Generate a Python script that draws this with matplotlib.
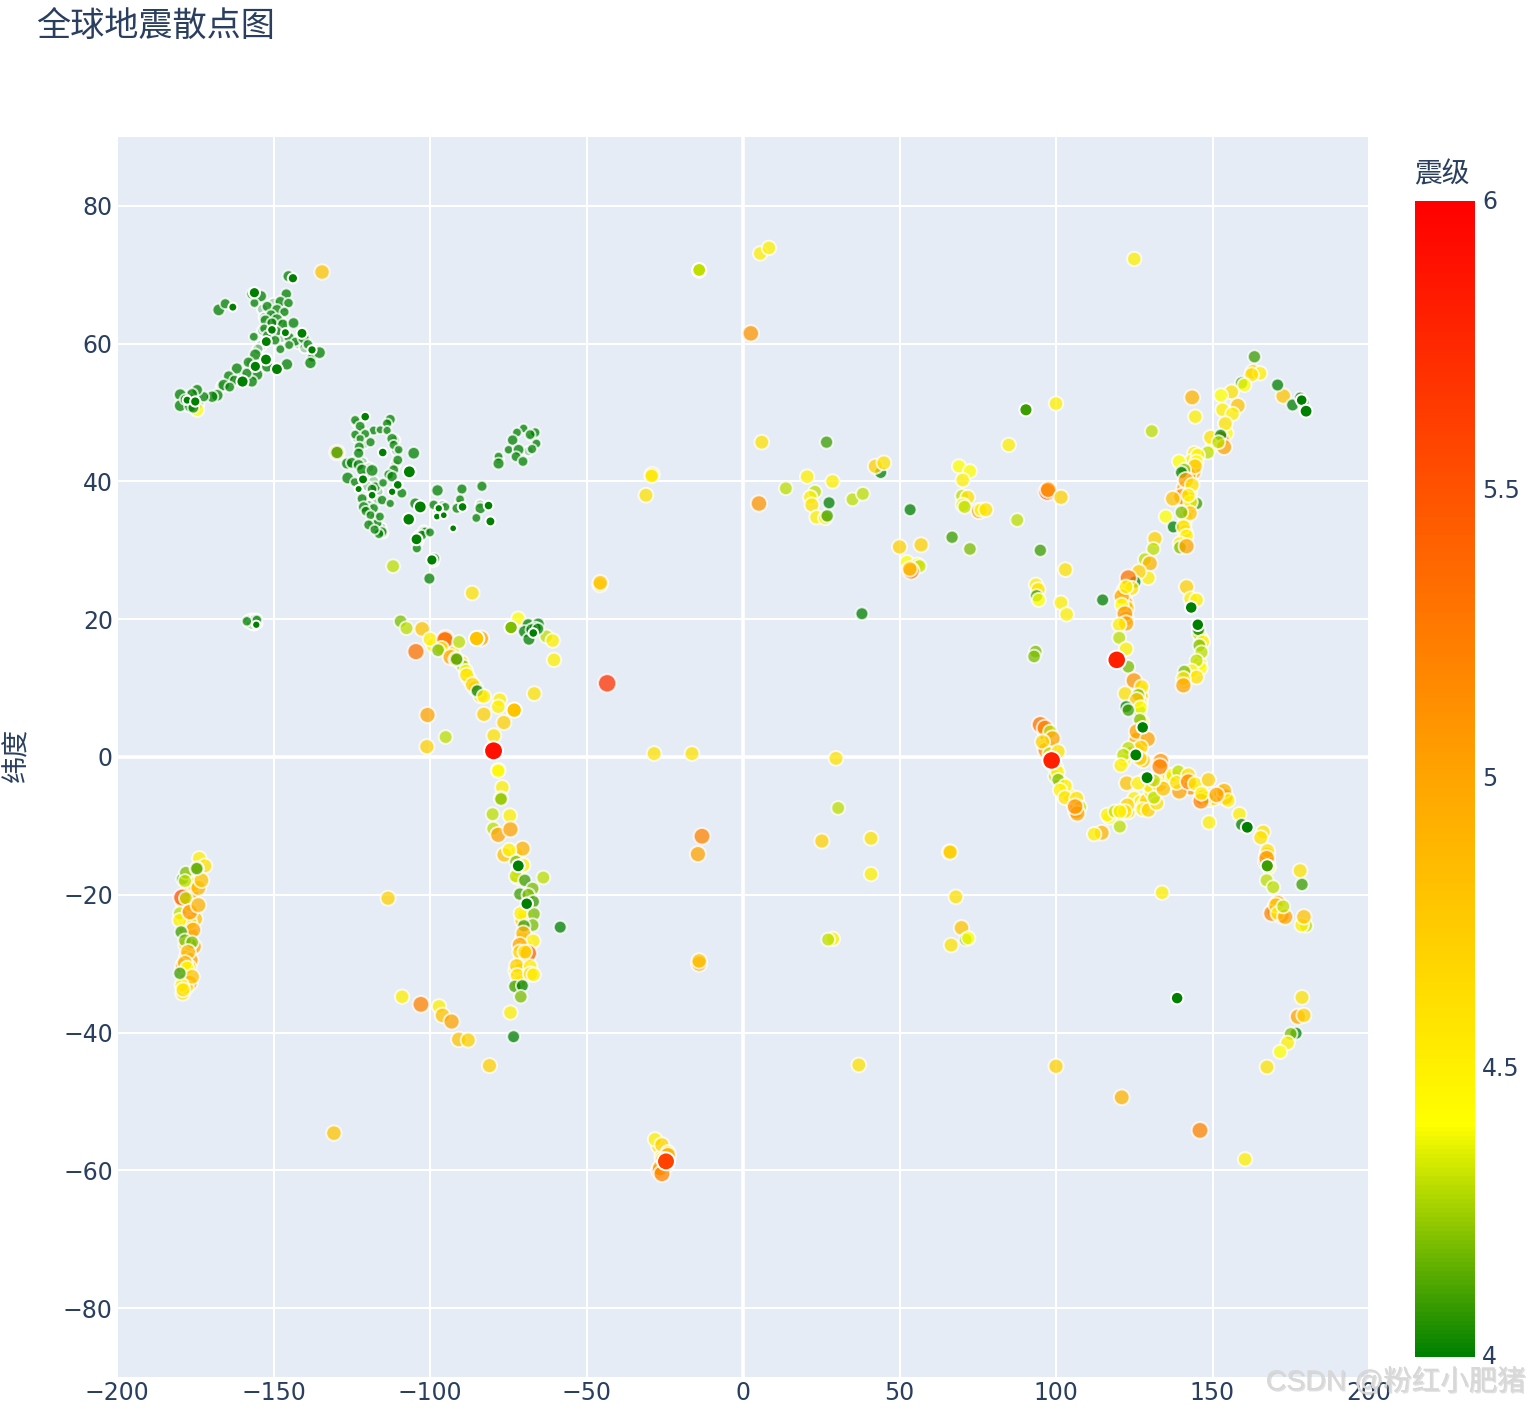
import numpy as np
import matplotlib
matplotlib.use('Agg')
import matplotlib.pyplot as plt
import matplotlib.patheffects as pe
from matplotlib.colors import LinearSegmentedColormap, Normalize
from matplotlib.cm import ScalarMappable
from matplotlib.transforms import ScaledTranslation

plt.rcParams['font.family'] = ['DejaVu Sans', 'Noto Sans CJK SC']

# (lon, lat, mag), grouped by region
alaska = [
    (-145.2,69.8,3.7),(-167.5,64.9,3.9),(-165.4,65.8,3.4),(-156.9,67.2,3.4),(-154,66.9,3.7),(-156.1,65.9,3.0),
    (-145.9,67.2,3.5),(-152,65.4,3.4),(-147.8,66.1,3.5),(-145.2,65.9,3.2),(-148.9,64.9,3.6),(-150.8,64.2,3.3),
    (-146.5,64.6,3.1),(-152.6,63.4,3.5),(-148.9,63.5,3.8),(-150.5,63,3.4),(-147,62.8,3.5),(-143.6,63,3.6),
    (-153,62.2,3.0),(-149,61.8,3.3),(-152,61.2,3.1),(-145,60.9,3.4),(-143,60.3,3.0),(-140.4,60.8,3.7),
    (-156.3,61,3.0),(-149.5,60.5,3.2),(-147.8,59.2,3.0),(-145,59.8,3.0),(-139,59.9,3.2),(-137.7,58,3.1),
    (-135.3,58.7,3.9),(-138.2,57.2,3.8),(-145.7,57,3.8),(-152,56.7,3.8),(-155.8,58.4,3.8),(-158,57.3,3.5),
    (-155.3,55.5,3.9),(-156.9,54.5,3.7),(-161.7,56.4,3.7),(-158.5,55.7,3.4),(-164.3,55.3,3.5),(-162.5,54.7,3.3),
    (-165.9,54,3.8),(-164,53.7,3.3),(-168,52.5,3.9),(-169.6,52.3,3.8),(-172.3,52.3,3.4),(-174.4,53.3,3.6),
    (-176,52.7,3.6),(-174.4,50.4,4.4),(-179.8,52.6,3.9),(-179.8,51,3.9),(-176.6,50.9,3.8),(-178.2,51.9,3.4),
    (-175.6,50.7,3.6),
]
us_west = [
    (-129.7,44.2,4.9),(-129.7,44.2,4.1),(-123.9,48.9,3.1),(-122.3,48,3.3),(-112.7,49,3.4),(-113.7,48.4,3.1),
    (-118,47.4,3.0),(-115.9,47.5,2.7),(-113.7,47.4,2.8),(-120.7,46.9,3.0),(-123.9,46.8,3.0),(-122.3,46.2,2.8),
    (-119,45.7,3.1),(-112.1,46.2,3.5),(-111.6,45.3,3.1),(-110,44.6,2.9),(-122.6,45,3.3),(-122.8,44.1,3.4),
    (-105.2,44.1,3.9),(-110.3,43.1,3.3),(-126.5,42.6,3.7),(-125,42.7,3.6),(-122.8,42.4,3.6),(-121.7,41.7,3.7),
    (-118.5,41.6,3.9),(-111.6,41.7,3.3),(-113.2,41,3.2),(-112.1,40.7,3.5),(-126.3,40.5,3.9),(-117.5,39.2,3.4),
    (-124,39.9,3.0),(-115,39.8,2.9),(-118.5,38.9,3.2),(-115.3,37.3,3.2),(-112.7,36.8,2.8),(-121.7,37.5,3.3),
    (-118,36.1,3.2),(-121.2,36.3,3.5),(-120.5,35.7,3.2),(-109,38.3,3.3),(-119,35.1,3.0),(-116.9,33.9,3.2),
    (-119.6,33.7,3.3),(-115.3,32.7,3.3),(-116.3,32.4,3.2),(-117.7,33,3.1),(-116,34.9,3.0),
]
us_east = [
    (-111.8,27.7,4.3),(-100.2,25.9,3.7),(-104.7,36.8,3.7),(-97.6,38.7,3.8),(-89.8,38.9,3.4),(-90.4,37.4,3.0),
    (-83.4,39.3,3.4),(-98.8,36.6,3.2),(-95.1,36.3,3.0),(-91.4,36.1,3.3),(-83.9,36.1,3.6),(-85.2,34.7,3.0),
    (-101.5,32.7,3.1),(-102.6,32.2,3.3),(-104.2,30.3,3.1),(-98.6,28.8,3.5),(-100,32.6,3.0),
    (-70.1,47.7,2.9),(-66.4,47.1,3.2),(-68,46.8,3.3),(-72.2,47.1,3.0),(-73.6,46,3.5),(-66,45.5,3.0),
    (-74.9,44.6,2.9),(-71.7,44.6,3.6),(-67.4,44.7,3.1),(-72.5,43.6,3.3),(-70.3,42.9,3.3),(-78.1,43.6,3.0),
    (-78.1,42.6,3.7),
]
hawaii = [(-158.5,19.7,3.2),(-155.3,19.9,3.2)]
central_america = [
    (-109.4,19.7,4.2),(-107.5,18.7,4.3),(-102.5,18.6,4.8),(-100,17.1,4.5),(-104.5,15.3,5.3),(-95.2,17,5.4),
    (-90.7,16.7,4.3),(-83.7,17.2,5.0),(-96.3,15.8,4.5),(-97.4,15.5,4.2),(-93.4,14.5,5.0),(-91.7,14.2,4.7),
    (-91.5,14.2,4.1),(-88.5,12.5,4.4),(-88.3,11.9,4.6),(-86.4,10.5,4.7),(-84.9,9.6,4.0),(-82.8,8.8,4.5),
    (-77.7,8.3,4.5),(-78.2,7.3,4.5),(-82.8,6.2,4.7),(-76.4,5,4.7),(-66.7,9.2,4.6),(-100.8,6.1,5.0),
    (-95,2.9,4.3),(-101,1.5,4.7),(-79.6,3.1,4.6),(-86.5,23.8,4.6),(-45.7,25,4.7),(-45.6,25.3,4.8),
]
caribbean = [
    (-71.8,20.1,4.4),(-68.6,19.2,4.0),(-65.4,19.3,4.0),(-66.4,18.7,4.0),(-69.8,18.2,4.0),(-68.4,17.1,4.0),
    (-67.5,18.5,3.9),(-62.8,17.5,4.3),(-60.8,16.9,4.5),(-60.4,14.1,4.5),(-65.5,18.6,3.8),
]
andes = [
    (-78.2,-1.9,4.6),(-78.2,-2,4.4),(-76.9,-4.4,4.5),(-77.3,-6,4.5),(-77.3,-6.1,4.2),(-74.5,-8.5,4.5),
    (-80,-8.3,4.3),(-79.8,-10.4,4.3),(-78.2,-11.3,5.0),(-74.3,-10.5,5.0),(-70.4,-13.3,4.9),(-76.3,-14.2,4.8),
    (-74.7,-13.5,4.5),(-72.5,-15.2,4.2),(-70.2,-15.7,4.5),(-63.8,-17.5,4.3),(-69.7,-17.9,4.1),(-67.2,-19.1,4.2),
    (-71.3,-19.9,4.1),(-68.6,-20,4.2),(-67,-21,4.1),(-71,-22.7,4.5),(-66.8,-22.8,4.2),(-67.2,-24.4,4.2),
    (-70,-24.5,4.1),(-58.4,-24.7,4.0),(-70.2,-25.6,4.9),(-67,-26.7,4.5),(-71.3,-27.3,5.0),(-71.3,-28.3,4.7),
    (-68.6,-28.5,5.4),(-69.7,-28.3,4.6),(-72.3,-30.3,4.7),(-72.1,-31.7,4.6),(-68,-30.4,4.5),(-67.9,-31.5,4.7),
    (-66.9,-31.6,4.5),(-72.9,-33.3,4.1),(-70.5,-33.2,4.0),(-71,-34.8,4.2),(-74.3,-37.1,4.5),(-73.3,-40.6,4.0),
    (-108.9,-34.8,4.5),(-102.9,-35.9,5.2),(-97.1,-36.2,4.5),(-96,-37.5,4.8),(-93.1,-38.4,5.0),(-90.8,-41,4.8),
    (-87.8,-41.1,4.7),(-81,-44.8,4.7),(-113.4,-20.5,4.7),(-130.7,-54.6,4.8),
]
tonga = [
    (-178,-16.8,4.2),(-173.7,-14.7,4.5),(-171.9,-15.8,4.6),(-174.5,-16.2,4.5),(-178.3,-18,4.3),(-173,-17.9,4.8),
    (-179.2,-20.4,5.5),(-178,-20.5,4.3),(-179.9,-22.7,4.3),(-176.7,-24,4.6),(-180,-23.7,4.5),(-175.7,-25.1,5.0),
    (-179.5,-25.4,4.1),(-178.3,-26.6,4.2),(-176,-26.9,4.2),(-177.3,-28.3,4.9),(-178.3,-29.9,4.9),(-177.6,-30.6,4.4),
    (-176,-31.9,4.8),(-179.3,-33.1,4.5),(-176.7,-22.5,5.1),(-174,-21.5,4.9),(-179.9,-31.4,4.1),(-178.9,-33.8,4.6),
    (-174.5,-16.2,4.1),
]
sandwich = [
    (-28.1,-55.5,4.5),(-25.9,-56.3,4.7),(-24,-57.4,4.6),(-24,-57.8,5.0),(-25.6,-58.5,4.9),(-26.5,-59.7,5.0),
    (-25.9,-60.5,5.2),
]
isolated = [
    (-134.5,70.4,4.8),(-14,70.6,4.5),(5.5,73.1,4.5),(8.3,73.9,4.5),(125,72.3,4.5),(2.5,61.5,5.1),(6,45.7,4.6),
    (26.7,45.7,4.1),(-29,41,4.7),(-29.2,40.8,4.5),(-31,38,4.6),(5.1,36.8,5.1),(-43.4,10.7,5.7),(-28.4,0.5,4.6),
    (-16.3,0.5,4.6),(29.7,-0.2,4.6),(30.4,-7.4,4.3),(25.2,-12.2,4.7),(40.9,-11.8,4.6),(40.9,-17,4.5),(-13.1,-11.5,5.2),
    (-14.4,-14.1,5.0),(66,-13.8,4.8),(66.2,-13.8,4.7),(68,-20.3,4.6),(69.8,-24.8,4.8),(71.2,-26.5,4.2),(72,-26.3,4.4),
    (66.5,-27.3,4.6),(28.7,-26.4,4.5),(27.2,-26.5,4.3),(37,-44.7,4.6),(-14,-30,5.0),(-14,-29.6,4.8),
    (178.6,-34.9,4.6),(177.3,-37.7,5.0),(179.2,-37.5,4.7),(176.7,-40.1,4.0),(175,-40.2,4.2),(174,-41.5,4.5),
    (171.6,-42.8,4.4),(167.4,-45,4.6),(160.4,-58.4,4.5),(146,-54.2,5.2),(121,-49.4,4.9),(100,-44.9,4.7),(133.9,-19.7,4.5),
]
middle_east = [
    (13.7,39,4.3),(20.5,40.7,4.5),(28.6,40,4.5),(23,38.5,4.3),(21.5,37.7,4.5),(22,36.6,4.6),(23.5,34.8,4.5),
    (26.3,34.7,4.5),(26.9,35,4.1),(27.5,36.9,4.0),(35,37.4,4.3),(38.3,38.2,4.3),(44,41.3,4.0),(42.3,42.2,4.7),
    (45,42.7,4.6),(53.4,35.9,4.0),(66.8,31.9,4.1),(50,30.5,4.7),(56.9,30.8,4.7),(52.4,28.3,4.4),(55.7,27.9,4.5),
    (56.4,27.7,4.3),(53.7,27,5.3),(53.3,27.3,4.8),(38,20.8,4.0),(69,42.2,4.4),(72.5,41.5,4.4),(70.2,40.2,4.5),
    (70,37.9,4.3),(71.8,37.7,4.6),(70.2,36.6,4.5),(70.8,36.3,4.3),(72.5,30.2,4.2),(75.4,35.7,5.0),(76,35.9,4.4),
    (77.6,35.9,4.6),(84.9,45.3,4.5),(87.6,34.4,4.3),(100,51.3,4.5),(95,30,4.1),(97.2,38.5,5.5),(97.5,38.8,5.1),
    (101.6,37.7,4.7),(103,27.2,4.6),(93.6,25,4.5),(94.3,24.3,4.6),(93.8,23.4,4.1),(94.5,22.8,4.4),(101.6,22.4,4.5),
    (103.4,20.7,4.5),(114.9,22.8,4.0),(93.5,15.3,4.2),(93,14.6,4.2),
]
kuril_japan = [
    (163.4,58.1,4.1),(163,55.9,4.8),(165.2,55.7,4.5),(162.5,55.5,4.6),(159.3,54.3,4.1),(160.2,54,4.4),(156.1,53,4.6),
    (152.7,52.5,4.4),(158.1,51,4.8),(153.2,50.4,4.5),(156.4,49.8,4.5),(154.1,48.4,4.6),(149.4,46.4,4.6),(152.6,46.7,4.0),
    (153.7,45,5.0),(151.9,45.7,4.3),(148.5,44.2,4.3),(143.5,52.2,4.9),(144.5,49.4,4.5),(130.6,47.3,4.3),(172.6,52.4,4.8),
    (170.8,54,4.0),(175.6,51.1,4.0),(179,51.5,3.8),(178,52.2,3.6),(139.3,42.9,4.4),(145.3,43.8,4.5),(144.9,42.9,4.4),
    (144.4,42.2,4.8),(141,41.7,4.2),(140.1,41.3,4.0),(141.5,40.2,5.0),(143.5,39.5,4.6),(140.1,37.8,5.2),(144.9,36.8,4.1),
    (143,37,4.5),(137.3,37.5,4.8),(142.3,38,4.5),(135.1,34.9,4.4),(142.8,35.4,4.8),(140.1,35.5,4.2),(137.5,33.4,4.0),
    (140.7,33.4,4.6),(141.7,32.1,4.5),(139.6,31,4.5),(139.6,30.4,4.2),(141.7,30.6,5.0),
]
ryukyu_philippines = [
    (131.6,31.7,4.7),(131.1,30.2,4.3),(128.4,28.7,4.3),(130,28.1,4.9),(129.5,26,4.5),(126.5,26.9,4.7),(125.2,25.4,4.0),
    (123.1,26,5.3),(124.2,24.5,4.6),(121,23.3,5.0),(121,22.1,4.4),(122,20.8,5.1),(122.4,19.4,5.0),(120.2,19.2,4.5),
    (122.4,24.7,4.5),(120.2,17.3,4.3),(122.4,15.7,4.5),(123.1,13.1,4.2),(124.9,11.1,5.1),(127.4,10.2,4.6),(122.1,9.2,4.6),
    (126.3,9,4.2),(125.8,8.3,4.8),(127,7.2,4.4),(122.4,7.3,4.0),(123.1,6.8,4.1),(126.8,5.4,4.2),(125.8,3.7,5.0),
    (129.3,2.6,5.0),(127.1,1.4,4.7),(123.1,1.3,4.3),(121.5,0.3,4.3),(120.7,-1.2,4.5),(126.8,-0.2,4.7),
    (141.7,24.7,4.7),(143,23,4.5),(144.9,22.8,4.5),(145.5,18.5,4.0),(146.9,16.7,4.5),(145.8,16.2,4.2),(146.5,15.2,4.3),
    (144.9,14,4.3),(143.3,12.5,4.5),(144.9,11.6,4.6),(141,12.4,4.2),(140.7,11.4,4.6),(140.7,10.4,5.0),
]
indonesia = [
    (95,4.7,5.3),(96.5,4.2,5.2),(98.1,3.7,4.3),(98.9,2.7,5.0),(95.7,2.2,4.7),(97.9,0.5,4.3),(100.7,0.8,4.6),(100.5,-2.2,4.5),
    (100.7,-3.3,4.2),(103,-4.2,4.5),(101.3,-4.8,4.5),(102.9,-5.9,4.6),(106.6,-6,4.6),(107.7,-7.3,4.3),(106.8,-8.2,5.0),
    (106.1,-7.2,5.1),(116.4,-8.4,4.5),(114.6,-11,4.9),(112.2,-11.2,4.5),(118.8,-7.9,4.3),(122.8,-7,4.7),(122,-7.9,4.6),
    (120.4,-7.9,4.5),(120.4,-10.1,4.3),(122.6,-3.8,4.8),(126.3,-3.8,4.5),(127.7,-7.6,4.5),(129.5,-7.7,4.7),(132.2,-6.7,4.6),
    (131.3,-5.9,4.3),(134.3,-4.6,4.8),(131.3,-3.4,4.3),(133.5,-0.6,5.1),(133.2,-1.4,5.2),(137.3,-2.6,4.5),(139.1,-2.1,4.3),
    (142.3,-2.6,4.6),(139.4,-5,5.0),(138.5,-3.7,4.6),(142.3,-3.6,5.2),(144.4,-3.9,4.5),(148.7,-3.3,4.7),(148.1,-5.9,4.3),
    (146.3,-6.4,5.2),(146.5,-5.3,4.5),(153.7,-4.9,4.9),(155,-6.3,4.5),(151.3,-5.5,5.0),(148.9,-9.5,4.5),(158.6,-8.3,4.5),
    (159.3,-9.8,4.0),(166.2,-10.9,4.6),(165.4,-11.7,4.6),(167.6,-13.6,4.6),(167.3,-14.7,5.1),(167.3,-17.9,4.3),(169.4,-18.9,4.3),
    (178,-16.5,4.6),(178.6,-18.5,4.1),(168.9,-22.7,5.2),(170.3,-21.5,4.8),(170.8,-22.7,4.5),(173.2,-23.2,5.0),(172.6,-21.7,4.3),
    (179.9,-24.5,4.3),(178.5,-24.4,4.5),(179.2,-23.2,4.8),
]
# points buried in the dense clusters, drawn first so the readable ones stay on top
buried = [
    (-177.5,-17.5,4.4),(-176.3,-19.5,5.0),(-175.5,-18.5,4.6),(-174,-19,4.9),(-179,-21.2,4.5),(-177.6,-21.5,4.6),
    (-175,-23.5,4.8),(-178.5,-23.4,4.6),(-178.2,-24.8,4.6),(-176.5,-25.7,4.9),(-175.5,-27.5,5.0),(-178,-27.3,4.7),
    (-177.8,-29,4.7),(-176.5,-29.5,5.0),(-178.8,-30.3,5.1),(-177,-30.5,4.7),(-178,-32.5,4.8),(-176.8,-32.8,5.0),
    (-179,-34.3,4.6),(-177.8,-33.4,4.6),(-176.6,-27.2,4.2),(-179,-17.7,4.1),
    (141,39,5.0),(142,38.8,4.6),(142.8,38.4,4.5),(142,37.5,5.3),(141.3,36.5,4.5),(141,36.9,4.5),(142,35.8,4.7),
    (141.5,34.8,4.6),(141,33.8,4.5),(141.2,32.7,4.7),(144.2,44.1,4.5),(143.4,43,4.5),(144,41.4,4.9),(142.3,41,5.0),
    (122,23.9,5.1),(121.6,22.8,4.9),(122.2,22.3,5.0),(122.6,21.6,4.8),(121.7,24.2,4.6),(123.3,25,4.7),(122.4,20.1,4.9),
    (126.9,9.9,4.5),(127.2,8.8,4.7),(127,7.9,4.5),(126.8,6.6,4.2),(127.6,5.1,4.4),(126.5,3.1,4.8),(127,2,4.5),
    (125.8,2.5,5.0),(125,0.8,4.7),(126,1,4.8),(127.8,-0.5,4.8),(123.7,0.6,4.2),(121.8,-0.5,4.4),
    (96.5,3.2,4.5),(97,2.8,4.2),(96.3,1.5,4.6),(98,1.4,4.7),(97.3,0.6,4.4),(96.8,1,5.2),(98.4,0,4.6),(99,-1,4.7),
    (100,-1.5,4.5),(99.7,-2.8,4.3),(101.5,-3.7,4.6),(104.5,-6,4.6),(105.5,-6.7,4.6),(107,-7,4.7),(106.5,-7.8,5.2),(104,-5.5,4.5),
    (125,-6,4.5),(127,-6.5,4.5),(128,-7,4.6),(129,-6.3,4.7),(130.3,-5,4.5),(128.5,-3.2,4.5),(130,-4.2,4.6),(133,-4,4.9),
    (135,-3,4.6),(136,-2.6,4.5),(137,-3,4.3),(140.5,-2.7,4.7),(141,-3.3,4.5),(143,-4.4,5.1),(147,-5.9,5.2),(149,-6.2,4.6),
    (150.5,-6,4.7),(152.8,-5.2,4.9),(154,-5.8,5.3),(123,-8,4.6),(120,-8.4,4.4),(119,-8.3,4.6),(117,-8.8,4.4),
    (167.3,-15.2,5.3),(167.4,-14.2,4.9),(168,-16,4.4),(169.7,-21.9,4.5),(170,-22.4,5.3),(171.5,-22,4.7),(172,-23,5.1),(170.9,-21.2,5.0),
    (-27,-56.5,4.6),(-24.9,-57.2,4.5),(-26.7,-60,5.2),(-24.6,-59.3,4.7),(-26,-58,4.5),
    (-72.7,-31,4.5),(-70.5,-26.3,4.6),(-70.6,-29.5,4.8),(-69.2,-27.5,4.4),(-71,-30.9,4.7),(-72,-33,4.5),(-72,-17.5,4.5),
    (-71.8,-16.5,4.5),(-72.6,-17.3,4.3),(-72.5,-14,4.5),(-70.5,-23.7,4.8),(-69.8,-22.8,4.5),(-71.5,-32.7,4.6),
    (-99,16.2,4.5),(-96.8,16.5,4.4),(-94.5,15.5,4.7),(-92.7,15.1,4.6),(-90,13.7,4.7),(-89.5,13.2,4.2),(-87.5,11.3,4.6),
    (-85.5,10,4.8),(-83.8,8.9,4.7),(-95,17.3,5.0),(154.5,47,4.4),(151.1,46,4.6),(150.2,45.3,4.4),(152.7,46.1,5.3),
    (146.4,17.2,4.5),(145.9,13.6,4.6),(146.2,12.9,4.4),(142,11.6,4.6),(145.6,17.9,4.3),(141,10.9,4.5),
]
# nearly see-through marks, they only show as white rings in the clusters
faint = [
    (-153.5,65,3.5),(-150,65.8,3.7),(-146.8,65.3,3.5),(-150.5,64.5,3.5),(-153,63.8,3.4),(-150,63.8,3.7),(-147.5,63,3.6),
    (-151.5,62.6,3.5),(-149,62.3,3.6),(-153.5,61.9,3.4),(-151,61,3.5),(-147.5,60.9,3.5),(-154,59.7,3.6),(-155,59.2,3.5),
    (-142,60,3.5),(-140,59.4,3.5),(-157,57.2,3.7),(-160,55.2,3.5),(-163,54.9,3.7),(-166.5,53.8,3.6),(-177,52.4,3.7),
    (-175,52.3,3.7),(-177.5,51,3.7),(-174,51.2,3.7),
    (-123.3,48.5,3.2),(-122,47.5,3.2),(-122.8,47,3.3),(-123.5,46.3,3.0),(-121,45.4,3.0),(-111.2,46,3.3),(-110.8,44.5,3.3),
    (-124,43,3.2),(-121.5,42.8,3.2),(-119.5,42,3.3),(-120.8,40.9,3.4),(-111,42.5,3.2),(-118,40,3.5),(-120,39.3,3.3),
    (-116.5,38.5,3.2),(-119.5,37.5,3.4),(-117,37.2,3.4),(-119.5,36.5,3.4),(-117.5,35,3.3),(-118.5,34,3.3),(-116.5,33,3.3),
    (-115.5,33.3,3.2),(-116.8,32.8,3.3),(-115,32.5,3.3),
    (-157.8,19.5,3.5),(-157,20,3.6),(-156.2,19.2,3.6),(-155.4,20,3.4),(-156.5,19.6,3.7),(-155.6,19.5,3.6),
    (-158,19.9,3.3),(-156.9,19.3,3.6),(-155.3,19.4,3.5),(-156,19.9,3.7),
    (-67.5,46.5,3.0),(-68.5,44.4,3.2),(-78,43.2,3.2),(-97.5,35.7,3.1),(-96,36.6,3.0),(-90.5,36.8,3.0),(-84,36.7,3.0),
    (-103.5,32,3.8),(-102,32.8,3.5),(-104,31.3,3.7),(-98.8,28.4,3.4),
]
# marks that show no transparency in the picture
solid = [
    (-143.8,69.5,3.2),(-163,65.3,2.8),(-156.1,67.4,3.5),(-150.5,62,3.0),(-146.2,61.6,2.8),(-140.9,61.5,3.4),
    (-152.3,60.3,3.4),(-152.4,57.7,3.7),(-155.8,56.7,3.5),(-148.9,56.3,3.7),(-159.9,54.5,3.8),(-177.6,51.8,2.8),
    (-175,51.6,3.2),(-137.7,59.1,2.9),(-120.7,49.4,3.0),(-115.1,44.2,3.0),(-106.6,41.4,4.0),(-110.3,39.5,3.0),
    (-121.4,40.3,3.1),(-122.8,38.9,2.5),(-118.5,38,2.7),(-112.1,38.5,2.6),(-106.8,34.5,3.9),(-103.1,36.3,4.0),
    (-104.3,31.6,3.7),(-99.4,28.6,3.5),(-89.6,36.3,3.0),(-81.3,36.5,3.0),(-80.7,34.2,3.1),(-97.2,36.1,2.6),
    (-97.8,34.9,2.4),(-95.6,35.1,2.4),(-92.6,33.2,2.4),(-155.5,19.2,2.6),(-67,18,3.0),(-74.1,18.8,4.2),
    (-85.1,17.2,4.8),(-73.1,6.8,4.8),(-79.7,0.9,5.9),(-71.8,-15.8,4.0),(-69.1,-21.3,3.9),(90.4,50.4,4.1),
    (-14,70.7,4.3),(178.5,51.8,3.6),(179.9,50.2,4.0),(143.2,21.7,3.9),(145.3,19.2,3.9),(119.4,14.1,5.8),
    (98.6,-0.5,5.8),(127.7,4.3,3.9),(125.5,0.3,4.0),(129.1,-3,4.0),(161.1,-10.2,4.0),(167.5,-15.8,4.1),
    (138.7,-35,3.9),(-24.6,-58.7,5.6),
]

x_ticks = [-200, -150, -100, -50, 0, 50, 100, 150, 200]
y_ticks = [-80, -60, -40, -20, 0, 20, 40, 60, 80]
bar_ticks = [4, 4.5, 5, 5.5, 6]
bar_labels = ['4', '4.5', '5', '5.5', '6']

TEXT = '#2a3f5f'
W, H = 1530, 1409

cmap = LinearSegmentedColormap.from_list(
    'quake', [(0, 'green'), (0.2, 'yellow'), (0.5, 'orange'), (1, 'red')])
norm = Normalize(4, 6)


def draw_points(ax, points, alpha, edge_alpha=None):
    pts = np.array(points)
    # marker diameter grows with magnitude, 3.2 px per unit, 0.72 pt per px at dpi 100
    sizes = (3.2 * pts[:, 2] * 0.72) ** 2
    if edge_alpha is None:
        ax.scatter(pts[:, 0], pts[:, 1], c=pts[:, 2], s=sizes, cmap=cmap, norm=norm, alpha=alpha,
                   edgecolors='white', linewidths=1.45, zorder=3)
    else:
        # the fill fades but the white ring stays
        face = cmap(norm(pts[:, 2]))
        face[:, 3] = alpha
        ax.scatter(pts[:, 0], pts[:, 1], c=face, s=sizes,
                   edgecolors=(1, 1, 1, edge_alpha), linewidths=1.45, zorder=3)


fig = plt.figure(figsize=(W / 100, H / 100), dpi=100)
ax = fig.add_axes([117 / W, 1 - 1377 / H, (1369 - 117) / W, (1377 - 137) / H])
ax.set_facecolor('#E5ECF6')
ax.set_xlim(-200, 200)
ax.set_ylim(-90, 90)
for spine in ax.spines.values():
    spine.set_visible(False)

ax.set_xticks(x_ticks)
ax.set_yticks(y_ticks)
ax.tick_params(length=0, labelsize=17, labelcolor=TEXT, pad=3)
ax.grid(color='white', linewidth=1.5)
ax.set_axisbelow(True)
ax.axhline(0, color='white', linewidth=2.6, zorder=1)
ax.axvline(0, color='white', linewidth=2.6, zorder=1)

draw_points(ax, faint, 0.25, edge_alpha=0.9)
draw_points(ax, buried, 0.75)
for region in [alaska, us_west, us_east, hawaii, central_america, caribbean, andes, tonga, sandwich,
               isolated, middle_east, kuril_japan, ryukyu_philippines, indonesia]:
    draw_points(ax, region, 0.75)
draw_points(ax, solid, 1.0)

cax = fig.add_axes([1415 / W, 1 - 1357 / H, 60 / W, (1357 - 201) / H])
cb = fig.colorbar(ScalarMappable(norm=norm, cmap=cmap), cax=cax)
cb.outline.set_visible(False)
cb.set_ticks(bar_ticks)
cb.set_ticklabels(bar_labels)
cb.ax.tick_params(length=0, labelsize=17, labelcolor=TEXT, pad=5)
for lab in cb.ax.get_yticklabels():
    lab.set_transform(lab.get_transform() + ScaledTranslation(0, 2 / 100, fig.dpi_scale_trans))

fig.text(36 / W, 1 - 27 / H, '全球地震散点图', fontsize=24.6, color=TEXT, va='center', ha='left')
fig.text(17 / W, 1 - 755 / H, '纬度', fontsize=19.5, color=TEXT, rotation=90, va='center', ha='center')
fig.text(1414 / W, 1 - 174 / H, '震级', fontsize=20, color=TEXT, va='center', ha='left')

wm = fig.text(1526 / W, 1 - 1382 / H, 'CSDN @粉红小肥猪', fontsize=20.5, color='#d8d8d8', va='center', ha='right',
              family=['Liberation Sans', 'Noto Sans CJK SC'], zorder=10)
wm.set_path_effects([pe.withSimplePatchShadow(offset=(1, -1), shadow_rgbFace='#aaaaaa', alpha=0.35), pe.Normal()])

fig.savefig('out.png', dpi=100)
